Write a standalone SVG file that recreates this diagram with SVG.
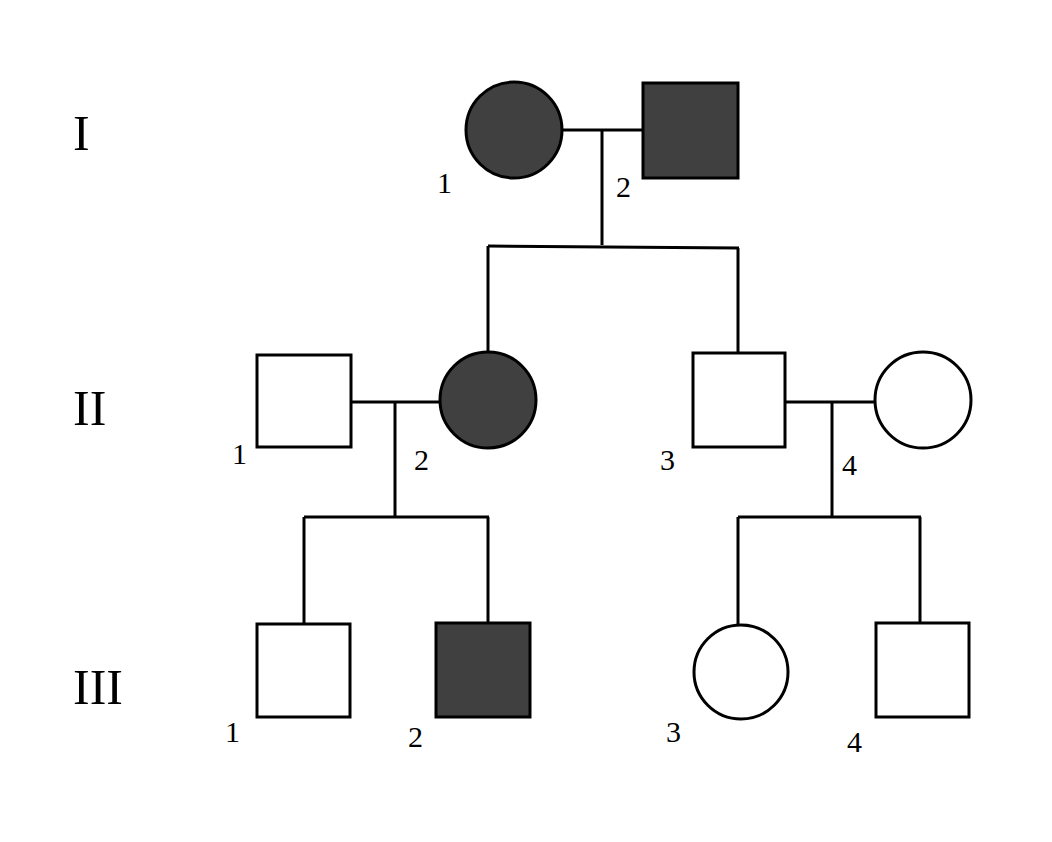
<svg xmlns="http://www.w3.org/2000/svg" width="1052" height="842" viewBox="0 0 1052 842">
<style>
.n{stroke:#000;stroke-width:3;fill:#fff}
.a{fill:#404040}
.c line{stroke:#000;stroke-width:3}
.g{font-family:"Liberation Serif",serif;font-size:50px}
.l{font-family:"Liberation Serif",serif;font-size:30px}
</style>
<rect width="1052" height="842" fill="#fff"/>
<g class="c">
<line x1="563" y1="130" x2="643" y2="130"/>
<line x1="602" y1="130" x2="602" y2="245"/>
<line x1="488" y1="246" x2="739" y2="248"/>
<line x1="488" y1="246" x2="488" y2="352"/>
<line x1="738" y1="248" x2="738" y2="353"/>
<line x1="351" y1="402" x2="440" y2="402"/>
<line x1="395" y1="402" x2="395" y2="517"/>
<line x1="304" y1="517" x2="489" y2="517"/>
<line x1="304" y1="517" x2="304" y2="624"/>
<line x1="488" y1="517" x2="488" y2="623"/>
<line x1="785" y1="402" x2="875" y2="402"/>
<line x1="832" y1="402" x2="832" y2="517"/>
<line x1="738" y1="517" x2="921" y2="517"/>
<line x1="738" y1="517" x2="738" y2="625"/>
<line x1="920" y1="517" x2="920" y2="623"/>
</g>
<g id="I1"><circle class="n a" cx="514" cy="130" r="48"/><text class="l" x="437" y="193">1</text></g>
<g id="I2"><rect class="n a" x="643" y="83" width="95" height="95"/><text class="l" x="616" y="197">2</text></g>
<g id="II1"><rect class="n" x="257" y="355" width="94" height="92"/><text class="l" x="232" y="464">1</text></g>
<g id="II2"><circle class="n a" cx="488" cy="400" r="48"/><text class="l" x="414" y="470">2</text></g>
<g id="II3"><rect class="n" x="693" y="353" width="92" height="94"/><text class="l" x="660" y="470">3</text></g>
<g id="II4"><circle class="n" cx="923" cy="400" r="48"/><text class="l" x="842" y="475">4</text></g>
<g id="III1"><rect class="n" x="257" y="624" width="93" height="93"/><text class="l" x="225" y="742">1</text></g>
<g id="III2"><rect class="n a" x="436" y="623" width="94" height="94"/><text class="l" x="408" y="747">2</text></g>
<g id="III3"><circle class="n" cx="741" cy="672" r="47"/><text class="l" x="666" y="742">3</text></g>
<g id="III4"><rect class="n" x="876" y="623" width="93" height="94"/><text class="l" x="847" y="752">4</text></g>
<text class="g" x="73" y="150">I</text>
<text class="g" x="73" y="425">II</text>
<text class="g" x="73" y="704">III</text>
</svg>
